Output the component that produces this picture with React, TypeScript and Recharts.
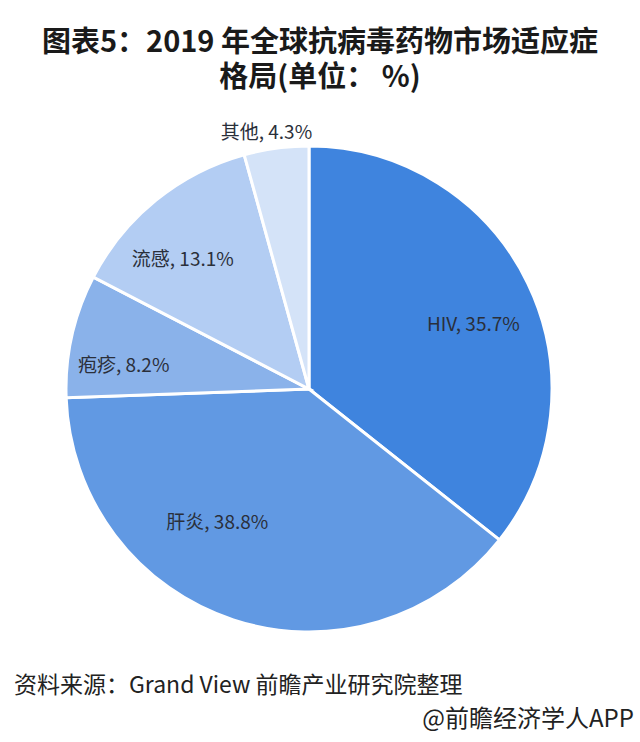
import React from 'react';
import { PieChart, Pie, Cell } from 'recharts';

const categories = ['HIV', '肝炎', '疱疹', '流感', '其他'];
const shares = [35.7, 38.8, 8.2, 13.1, 4.3];
const colors = ['#3f84de', '#6199e3', '#8ab2ea', '#b3cdf3', '#d4e3f8'];

const data = categories.map((name, i) => ({ name, value: shares[i] }));

// label placement (radius factor and angle offset relative to slice mid angle)
const labelRadius = [0.73, 0.66, 0.77, 0.75, 1.08];
const labelAngleOffset = [-3.7, -16.7, 4.7, 4.8, 1.6];

const RAD = Math.PI / 180;

const renderLabel = (props: any) => {
  const { cx, cy, midAngle, outerRadius, index } = props;
  const a = (midAngle + labelAngleOffset[index]) * RAD;
  const r = outerRadius * labelRadius[index];
  const x = cx + r * Math.cos(a);
  const y = cy - r * Math.sin(a);
  return (
    <text
      x={x}
      y={y}
      textAnchor="middle"
      dominantBaseline="central"
      fill="#2a2f3a"
      fontSize={19}
      fontFamily="'Noto Sans CJK SC', 'Noto Sans', sans-serif"
    >
      {`${categories[index]}, ${shares[index]}%`}
    </text>
  );
};

const titleStyle: React.CSSProperties = {
  position: 'absolute',
  left: 0,
  width: 640,
  height: 30,
  textAlign: 'center',
  fontSize: 29,
  fontWeight: 700,
  lineHeight: '30px',
  color: '#1a1a1a',
  whiteSpace: 'nowrap',
};

export default function App() {
  return (
    <div
      style={{
        position: 'absolute',
        left: 0,
        top: 0,
        width: 640,
        height: 742,
        background: '#ffffff',
        overflow: 'hidden',
        fontFamily: "'Noto Sans CJK SC', sans-serif",
      }}
    >
      <div style={{ ...titleStyle, top: 24 }}>图表5：2019 年全球抗病毒药物市场适应症</div>
      <div style={{ ...titleStyle, top: 59 }}>格局(单位： %)</div>
      <div style={{ position: 'absolute', left: 0, top: 0 }}>
        <PieChart width={640} height={742} margin={{ top: 0, right: 0, bottom: 0, left: 0 }}>
          <Pie
            data={data}
            dataKey="value"
            nameKey="name"
            cx={309}
            cy={389}
            outerRadius={243}
            startAngle={90}
            endAngle={-270}
            stroke="#ffffff"
            strokeWidth={3}
            label={renderLabel}
            labelLine={false}
            isAnimationActive={false}
          >
            {data.map((d, i) => (
              <Cell key={d.name} fill={colors[i]} />
            ))}
          </Pie>
        </PieChart>
      </div>
      <div
        style={{
          position: 'absolute',
          left: 14,
          top: 668,
          fontSize: 23,
          lineHeight: '30px',
          color: '#222',
          whiteSpace: 'nowrap',
        }}
      >
        资料来源：Grand View 前瞻产业研究院整理
      </div>
      <div
        style={{
          position: 'absolute',
          right: 6,
          top: 702,
          fontSize: 24,
          lineHeight: '30px',
          color: '#222',
          whiteSpace: 'nowrap',
        }}
      >
        @前瞻经济学人APP
      </div>
    </div>
  );
}
